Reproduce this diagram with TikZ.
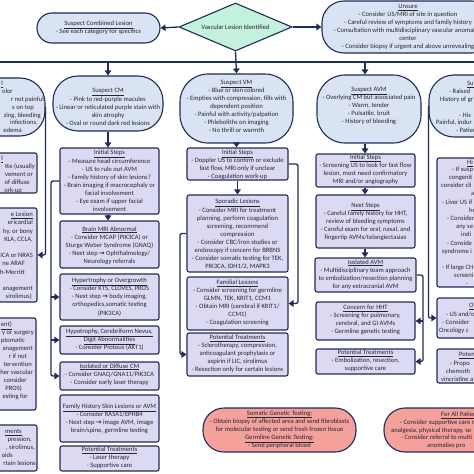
\documentclass[tikz,border=0pt]{standalone}
\usepackage{fontspec}
\setmainfont{Carlito}
\newfontfamily\symf{DejaVu Sans}
\usetikzlibrary{arrows.meta,shapes.geometric}
\definecolor{navy}{HTML}{1F2C56}
\definecolor{stad}{HTML}{DAE3F3}
\definecolor{lav}{HTML}{DCDAF2}
\definecolor{mint}{HTML}{C4F0DE}
\definecolor{salmon}{HTML}{F4A19C}
\definecolor{txt}{HTML}{262633}
\newcommand\ar{{\symf\bfseries →}}
\newcounter{fc}
\tikzset{
 base/.style={draw=navy, line width=1.1pt, inner sep=0pt},
 stadium/.style={base, fill=stad, rounded corners=16pt},
 stepbox/.style={base, fill=lav, rounded corners=2pt},
 pinkbox/.style={base, fill=salmon, rounded corners=21pt},
 btext/.style={text=txt, font=\fontsize{6.6}{8.1}\selectfont, align=center, inner sep=0pt},
 frag/.style={text=txt, font=\fontsize{6.6}{8.1}\selectfont, inner sep=0pt},
 conn/.style={draw=navy, line width=1.3pt, rounded corners=2pt},
 arr/.style={conn, -{Triangle[length=5pt,width=6.5pt]}},
}
% style, name, left, top, right, bottom, text y, text
\newcommand\bx[8]{%
 \node[#1, minimum width={(#5)-(#3)}, minimum height={(#6)-(#4)}] (#2) at ({((#3)+(#5))/2},{((#4)+(#6))/2}) {};
 \node[btext] (#2t) at ({((#3)+(#5))/2},#7) {#8};}
\newcommand\fr[3]{\stepcounter{fc}\node[frag, anchor=mid east] (fr\arabic{fc}) at (#1,#2) {#3};}
\newcommand\fl[3]{\stepcounter{fc}\node[frag, anchor=mid west] (fl\arabic{fc}) at (#1,#2) {#3};}
\begin{document}
\begin{tikzpicture}[x=1pt,y=-1pt]
\useasboundingbox (0,0) rectangle (474,474);
\fill[white] (0,0) rectangle (474,474);
\begin{scope}
\clip (0,0) rectangle (474,474);
% top row
\node[base, diamond, fill=mint, aspect=2.35, minimum width=113pt, minimum height=48pt] (dia) at (235.5,27) {};
\node[btext] (diat) at (235.5,27) {Vascular Lesion Identified};
\bx{stadium, rounded corners=15pt}{comb}{37}{13}{160}{43}{28}{\underline{Suspect Combined Lesion}\\- See each category for specifics}
\bx{stadium, rounded corners=22pt}{uns}{322}{1}{494}{53}{27}{\underline{Unsure}\\- Consider US/MRI of site in question\\- Careful review of symptoms and family history\\- Consultation with multidisciplinary vascular anomalies\\center\\- Consider biopsy if urgent and above unrevealing}
\draw[arr] (dia.west) -- (comb.east);
\draw[arr] (dia.east) -- (uns.west);
% distribution bar
\coordinate (barL) at (-10,62);
\coordinate (barR) at (484,62);
\draw[conn] (barL) -- (barR);
% suspect row
\bx{stadium, rounded corners=25pt}{lm}{-70}{78}{45}{136}{100}{}
\bx{stadium, rounded corners=25pt}{cm}{53}{76}{163}{131}{107}{\underline{Suspect CM}\\- Pink to red-purple macules\\- Linear or reticulated purple stain with\\skin atrophy\\- Oval or round dark red lesions}
\bx{stadium, rounded corners=28pt}{vm}{180}{74}{293}{143}{106.5}{\underline{Suspect VM}\\- Blue or skin colored\\- Empties with compression, fills with\\dependent position\\- Painful with activity/palpation\\- Phleboliths on imaging\\- No thrill or warmth}
\bx{stadium, rounded corners=28pt}{avm}{317}{75}{421}{143}{106}{\underline{Suspect AVM}\\- Overlying CM but associated pain\\- Warm, tender\\- Pulsatile, bruit\\- History of bleeding}
\bx{stadium, rounded corners=25pt}{rc}{429}{75}{560}{137}{100}{}
\draw[arr] (dia.south) -- (vm.north);
\coordinate (cmx) at (108,62);
\coordinate (avmx) at (365,62);
\draw[arr] (cmx) -- (cmx |- cm.north);
\draw[arr] (avmx) -- (avmx |- avm.north);
% LM fragments
\fr{3}{83}{\underline{l}}
\fr{13}{91}{olor}
\fr{44}{99}{r not painful}
\fr{34}{107}{s on top}
\fr{41}{115}{zing, bleeding}
\fr{38}{122}{infections,}
\fr{22}{130}{edema}
% right stadium fragments
\fl{467}{83}{\underline{Su}}
\fl{449}{91}{- Raised}
\fl{440}{99}{History of gr}
\fl{459}{115}{- His}
\fl{436}{122}{Painful, indur}
\fl{456}{130}{- Patien}
% CM column
\bx{stepbox}{cmis}{60}{148}{159}{214}{181}{\underline{Initial Steps}\\- Measure head circumference\\- US to rule out AVM\\- Family history of skin lesions?\\- Brain imaging if macrocephaly or\\facial involvement\\- Eye exam if upper facial\\involvement}
\bx{stepbox}{mri}{60}{221}{159}{268}{245.5}{\underline{Brain MRI Abnormal}\\- Consider MCAP (PIK3CA) or\\Sturge Weber Syndrome (GNAQ)\\- Next step \ar{} Ophthalmology/\\Neurology referrals}
\bx{stepbox}{hyper}{60}{274}{159}{320}{297}{\underline{Hypertrophy or Overgrowth}\\- Consider KTS, CLOVES, PROS\\- Next step \ar{} body imaging,\\orthopedics,somatic testing\\(PIK3CA)}
\bx{stepbox}{hypo}{60}{326}{159}{354}{340}{\underline{Hypotrophy, Cerebriform Nevus,}\\\underline{Digit Abnormalities}\\- Consider Proteus (AKT1)}
\bx{stepbox}{iso}{60}{362}{159}{390}{374.5}{\underline{Isolated or Diffuse CM}\\- Consider GNAQ/GNA11/PIK3CA\\- Consider early laser therapy}
\bx{stepbox}{fam}{60}{395}{159}{442}{419}{\underline{Family History Skin Lesions or AVM}\\- Consider RASA1/EPHB4\\- Next step \ar{} image AVM, image\\brain/spine, germline testing}
\bx{stepbox}{cmpt}{60}{446}{159}{471}{458}{\underline{Potential Treatments}\\- Laser therapy\\- Supportive care}
\draw[arr] (cmx |- cm.south) -- (cmx |- cmis.north);
\draw[arr] (cmx |- cmis.south) -- (cmx |- mri.north);
\coordinate (cmL) at (51,0);
\draw[arr] (cmis.west) -- (cmis.west -| cmL) |- (iso.west);
\draw[arr] (cmL |- hyper.west) -- (hyper.west);
\draw[arr] (cmL |- hypo.west) -- (hypo.west);
% VM column
\bx{stepbox}{vmis}{187}{148}{288}{180}{165}{\underline{Initial Steps}\\- Doppler US to confirm or exclude\\fast flow, MRI only if unclear\\- Coagulation work-up}
\bx{stepbox}{spor}{187}{195}{288}{272}{234.5}{\underline{Sporadic Lesions}\\- Consider MRI for treatment\\planning, perform coagulation\\screening, recommend\\compression\\- Consider CBC/iron studies or\\endoscopy if concern for BRBNS\\- Consider somatic testing for TEK,\\PIK3CA, IDH1/2, MAPK3}
\bx{stepbox}{famv}{187}{277}{288}{330}{303}{\underline{Familial Lesions}\\- Consider screening for germline\\GLMN, TEK, KRIT1, CCM1\\- Obtain MRI (cerebral if KRIT1/\\CCM1)\\- Coagulation screening}
\bx{stepbox}{vmpt}{187}{333}{288}{376}{354}{\underline{Potential Treatments}\\- Sclerotherapy, compression,\\anticoagulant prophylaxis or\\aspirin if LIC, sirolimus\\- Resection only for certain lesions}
\draw[arr] (vm.south) -- (vm.south |- vmis.north);
\draw[arr] (vmis.south) -- (spor.north);
\coordinate (vmR) at (298,0);
\coordinate (vmL) at (180,0);
\draw[arr] (vmis.east) -- (vmis.east -| vmR) |- (famv.east);
\draw[arr] (spor.west) -- (spor.west -| vmL) |- (vmpt.west);
% AVM column
\bx{stepbox}{avmis}{316}{154}{415}{187}{169.5}{\underline{Initial Steps}\\- Screening US to look for fast flow\\lesion, most need confirmatory\\MRI and/or angiography}
\bx{stepbox}{next}{316}{195}{415}{248}{222}{\underline{Next Steps}\\- Careful family history for HHT,\\review of bleeding symptoms\\- Careful exam for oral, nasal, and\\fingertip AVMs/telangiectasias}
\bx{stepbox}{isoavm}{315}{258}{416}{292}{274.5}{\underline{Isolated AVM}\\- Multidisciplinary team approach\\to embolization/resection planning\\for any extracranial AVM}
\bx{stepbox}{hht}{316}{302}{415}{340}{320}{\underline{Concern for HHT}\\- Screening for pulmonary,\\cerebral, and GI AVMs\\- Germline genetic testing}
\bx{stepbox}{avmpt}{316}{349}{415}{374}{361}{\underline{Potential Treatments}\\- Embolization, resection,\\supportive care}
\draw[arr] (avmx |- avm.south) -- (avmx |- avmis.north);
\draw[arr] (avmx |- avmis.south) -- (avmx |- next.north);
\draw[arr] (avmx |- next.south) -- (avmx |- isoavm.north);
\coordinate (avmR) at (423,0);
\draw[arr] (isoavm.east) -- (isoavm.east -| avmR) |- (avmpt.east);
\draw[arr] (avmR |- hht.east) -- (hht.east);
% right column
\bx{stepbox}{hi}{437}{158}{560}{287}{220}{}
\bx{stepbox}{onc}{437}{298}{560}{338}{318}{}
\bx{stepbox}{rpt}{437}{349}{560}{383}{366}{}
\draw[arr] (rc.west) -- (rc.west |- onc.west) -- (onc.west);
\fl{467}{162}{\underline{Hi}}
\fl{452}{169}{- If susp}
\fl{449}{177}{congenit}
\fl{441}{185}{consider cli}
\fl{471}{193}{a}
\fl{442}{202}{- Liver US if}
\fl{469}{210}{he}
\fl{447}{218}{- Consider}
\fl{456}{226}{any se}
\fl{461}{234}{indi}
\fl{447}{243}{- Conside}
\fl{442}{251}{syndrome i}
\fl{442}{267}{- If large CH}
\fl{454}{275}{screeni}
\fl{466}{283}{-}
\fl{469}{305}{\underline{O}}
\fl{446}{314}{- US and/o}
\fl{442}{322}{- Consider}
\fl{439}{330}{Oncology c}
\fl{459}{354}{\underline{Poten}}
\fl{450}{363}{- Propo}
\fl{446}{371}{chemoth}
\fl{441}{379}{vincristine a}
% left column
\bx{stepbox}{la}{-70}{153}{37}{193}{174}{}
\bx{stepbox}{lb}{-70}{208}{37}{302}{255}{}
\bx{stepbox}{lc}{-70}{318}{36}{410}{364}{}
\bx{stepbox}{ld}{-70}{425}{37}{471}{448}{}
\draw[arr] (lm.east) -- (lm.east |- lb.east) -- (lb.east);
\fr{3}{158}{\underline{l}}
\fr{35}{166}{tte (usually}
\fr{33}{174}{vement or}
\fr{30}{182}{of diffuse}
\fr{22}{190}{ork-up}
\fr{33}{214}{\underline{e Lesion}}
\fr{33}{222}{ericardial}
\fr{33}{231}{hy, or bony}
\fr{33}{239}{KLA, CCLA,}
\fr{33}{255}{ICA or NRAS}
\fr{25}{263}{ne ARAF}
\fr{25}{272}{th-Merritt}
\fr{33}{288}{anagement}
\fr{32}{296}{sirolimus)}
\fr{12}{324}{\underline{ent)}}
\fr{34}{332}{y or surgery}
\fr{25}{340}{ptomatic}
\fr{33}{348}{anagement}
\fr{27}{356}{r if not}
\fr{32}{364}{tervention}
\fr{33}{372}{her vascular}
\fr{27}{380}{consider}
\fr{22}{388}{PROS)}
\fr{28}{396}{esting for}
\fr{22}{431}{\underline{ments}}
\fr{32}{439}{pression,}
\fr{35}{447}{, sirolimus,}
\fr{13}{455}{oids}
\fr{36}{463}{rtain lesions}
% bottom pink boxes
\bx{pinkbox}{som}{203}{408}{356}{452}{429.5}{\underline{Somatic Genetic Testing:}\\- Obtain biopsy of affected area and send fibroblasts\\for molecular testing or send fresh frozen tissue\\\underline{Germline Genetic Testing:}\\- Send peripheral blood}
\bx{pinkbox}{fap}{384}{408}{556}{452}{430}{}
\fl{441}{414}{\underline{For All Patien}}
\fl{400}{422}{- Consider supportive care m}
\fl{391}{430}{analgesia, physical therapy, so}
\fl{401}{437}{- Consider referral to multi}
\fl{427}{445}{anomalies pro}
\end{scope}
\end{tikzpicture}
\end{document}
